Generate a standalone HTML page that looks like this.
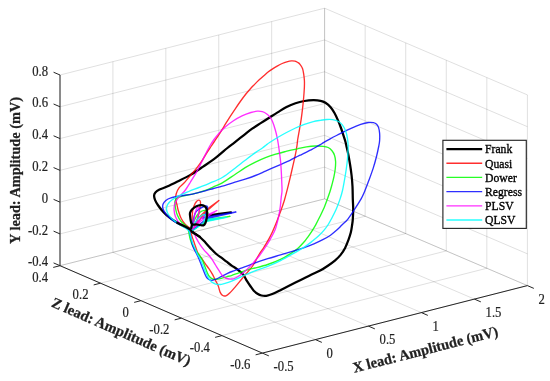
<!DOCTYPE html>
<html lang="en">
<head>
<meta charset="utf-8">
<title>VCG loops</title>
<style>
html,body{margin:0;padding:0;background:#fff;}
body{width:550px;height:381px;overflow:hidden;}
svg{display:block;}
text{font-family:"Liberation Serif","DejaVu Serif",serif;fill:#222;}
.g{stroke:#000;stroke-opacity:0.125;stroke-width:1;fill:none;}
.a{stroke:#262626;stroke-width:1;fill:none;}
.c{fill:none;stroke-width:1.35;stroke-linejoin:round;stroke-linecap:round;}
.frank{stroke:#000;stroke-width:2.25;}
.quasi{stroke:#f00;stroke-opacity:.82;}
.dower{stroke:#0f0;stroke-opacity:.85;}
.regress{stroke:#00f;stroke-opacity:.82;}
.plsv{stroke:#f0f;stroke-opacity:.82;}
.qlsv{stroke:#0ff;stroke-opacity:.85;}
.t{font-size:13.8px;stroke:#222;stroke-width:0.2px;}
.l{font-size:14.8px;font-weight:bold;stroke:#222;stroke-width:0.25px;}
.k{font-size:12.8px;fill:#000;stroke:#000;stroke-width:0.35px;}
</style>
</head>
<body>
<svg width="550" height="381" viewBox="0 0 550 381">
<rect width="550" height="381" fill="#fff"/>
<g id="grid"><line class="g" x1="60" y1="265.7" x2="60" y2="75"/><line class="g" x1="112.92" y1="252.34" x2="112.92" y2="61.64"/><line class="g" x1="165.84" y1="238.98" x2="165.84" y2="48.28"/><line class="g" x1="218.76" y1="225.62" x2="218.76" y2="34.92"/><line class="g" x1="271.68" y1="212.26" x2="271.68" y2="21.56"/><line class="g" x1="324.6" y1="198.9" x2="324.6" y2="8.2"/><line class="g" x1="60" y1="265.7" x2="324.6" y2="198.9"/><line class="g" x1="60" y1="233.92" x2="324.6" y2="167.12"/><line class="g" x1="60" y1="202.13" x2="324.6" y2="135.33"/><line class="g" x1="60" y1="170.35" x2="324.6" y2="103.55"/><line class="g" x1="60" y1="138.57" x2="324.6" y2="71.77"/><line class="g" x1="60" y1="106.78" x2="324.6" y2="39.98"/><line class="g" x1="60" y1="75" x2="324.6" y2="8.2"/><line class="g" x1="324.6" y1="198.9" x2="324.6" y2="8.2"/><line class="g" x1="365.16" y1="216.24" x2="365.16" y2="25.54"/><line class="g" x1="405.72" y1="233.58" x2="405.72" y2="42.88"/><line class="g" x1="446.28" y1="250.92" x2="446.28" y2="60.22"/><line class="g" x1="486.84" y1="268.26" x2="486.84" y2="77.56"/><line class="g" x1="527.4" y1="285.6" x2="527.4" y2="94.9"/><line class="g" x1="324.6" y1="198.9" x2="527.4" y2="285.6"/><line class="g" x1="324.6" y1="167.12" x2="527.4" y2="253.82"/><line class="g" x1="324.6" y1="135.33" x2="527.4" y2="222.03"/><line class="g" x1="324.6" y1="103.55" x2="527.4" y2="190.25"/><line class="g" x1="324.6" y1="71.77" x2="527.4" y2="158.47"/><line class="g" x1="324.6" y1="39.98" x2="527.4" y2="126.68"/><line class="g" x1="324.6" y1="8.2" x2="527.4" y2="94.9"/><line class="g" x1="60" y1="265.7" x2="262.4" y2="353.1"/><line class="g" x1="112.92" y1="252.34" x2="315.4" y2="339.6"/><line class="g" x1="165.84" y1="238.98" x2="368.4" y2="326.1"/><line class="g" x1="218.76" y1="225.62" x2="421.4" y2="312.6"/><line class="g" x1="271.68" y1="212.26" x2="474.4" y2="299.1"/><line class="g" x1="324.6" y1="198.9" x2="527.4" y2="285.6"/><line class="g" x1="60" y1="265.7" x2="324.6" y2="198.9"/><line class="g" x1="100.48" y1="283.18" x2="365.16" y2="216.24"/><line class="g" x1="140.96" y1="300.66" x2="405.72" y2="233.58"/><line class="g" x1="181.44" y1="318.14" x2="446.28" y2="250.92"/><line class="g" x1="221.92" y1="335.62" x2="486.84" y2="268.26"/><line class="g" x1="262.4" y1="353.1" x2="527.4" y2="285.6"/></g>
<g id="curves"><path class="c frank" d="M154.1 195.4C154.2 194.13 154.7 193.17 155.6 192.2C156.5 191.23 157.58 190.55 159.5 189.6C161.42 188.65 164.1 187.85 167.1 186.5C170.1 185.15 173.6 183.43 177.5 181.5C181.4 179.57 186.22 177.38 190.5 174.9C194.78 172.42 198.97 169.47 203.2 166.6C207.43 163.73 211.87 160.8 215.9 157.7C219.93 154.6 224.32 150.52 227.4 148C230.48 145.48 231.75 144.67 234.4 142.6C237.05 140.53 240.33 137.93 243.3 135.6C246.27 133.27 249.23 130.72 252.2 128.6C255.17 126.48 258.13 124.8 261.1 122.9C264.07 121 267.25 118.95 270 117.2C272.75 115.45 274.85 114.1 277.6 112.4C280.35 110.7 283.52 108.53 286.5 107C289.48 105.47 292.52 104.2 295.5 103.2C298.48 102.2 301.43 101.5 304.4 101C307.37 100.5 310.62 100.23 313.3 100.2C315.98 100.17 318.47 100.37 320.5 100.8C322.53 101.23 323.82 101.72 325.5 102.8C327.18 103.88 329.1 105.6 330.6 107.3C332.1 109 333.27 110.82 334.5 113C335.73 115.18 336.92 117.9 338 120.4C339.08 122.9 340.08 125.47 341 128C341.92 130.53 342.75 133.27 343.5 135.6C344.25 137.93 345 140.18 345.5 142C346 143.82 346.05 144.5 346.5 146.5C346.95 148.5 347.6 150.97 348.2 154C348.8 157.03 349.53 161.12 350.1 164.7C350.67 168.28 351.2 171.87 351.6 175.5C352 179.13 352.3 182.6 352.5 186.5C352.7 190.4 352.68 195.13 352.8 198.9C352.92 202.67 353.2 205.7 353.2 209.1C353.2 212.5 352.98 216.65 352.8 219.3C352.62 221.95 352.43 222.78 352.1 225C351.77 227.22 351.43 230.05 350.8 232.6C350.17 235.15 349.25 237.75 348.3 240.3C347.35 242.85 346.38 245.47 345.1 247.9C343.82 250.33 342.3 252.78 340.6 254.9C338.9 257.02 337.02 258.8 334.9 260.6C332.78 262.4 330.35 264.05 327.9 265.7C325.45 267.35 323 269 320.2 270.5C317.4 272 314.1 273.25 311.1 274.7C308.1 276.15 305.38 277.6 302.2 279.2C299.02 280.8 295.4 282.6 292 284.3C288.6 286 284.98 287.82 281.8 289.4C278.62 290.98 275.48 292.73 272.9 293.8C270.32 294.87 268.2 295.52 266.3 295.8C264.4 296.08 262.97 295.83 261.5 295.5C260.03 295.17 258.78 294.58 257.5 293.8C256.22 293.02 255 292.1 253.8 290.8C252.6 289.5 251.45 287.65 250.3 286C249.15 284.35 248.1 282.82 246.9 280.9C245.7 278.98 244.8 276.52 243.1 274.5C241.4 272.48 238.55 270.25 236.7 268.8C234.85 267.35 233.68 266.98 232 265.8C230.32 264.62 228.37 263.05 226.6 261.7C224.83 260.35 223.12 258.98 221.4 257.7C219.68 256.42 217.95 255.4 216.3 254C214.65 252.6 213.28 251.18 211.5 249.3C209.72 247.42 207.57 244.78 205.6 242.7C203.63 240.62 201.9 238.58 199.7 236.8C197.5 235.02 194.02 233.25 192.4 232C190.78 230.75 191.25 230.22 190 229.3C188.75 228.38 187.02 227.6 184.9 226.5C182.78 225.4 179.85 224.18 177.3 222.7C174.75 221.22 171.93 219.4 169.6 217.6C167.27 215.8 165.2 213.92 163.3 211.9C161.4 209.88 159.58 207.52 158.2 205.5C156.82 203.48 155.68 201.48 155 199.8C154.32 198.12 154 196.67 154.1 195.4Z"/><path class="c frank" d="M207.4 215.6C211.33 215.05 227.07 212.85 231 212.3"/><path class="c quasi" d="M190 228.5C189 227.1 186.38 225.7 184.9 224C183.42 222.3 182.17 220.42 181.1 218.3C180.03 216.18 179.18 213.53 178.5 211.3C177.82 209.07 177.47 207.03 177 204.9C176.53 202.77 175.82 200.4 175.7 198.5C175.58 196.6 175.72 195.3 176.3 193.5C176.88 191.7 177.92 189.45 179.2 187.7C180.48 185.95 182.12 185.03 184 183C185.88 180.97 188.37 178.02 190.5 175.5C192.63 172.98 194.9 170.33 196.8 167.9C198.7 165.47 200.2 163.45 201.9 160.9C203.6 158.35 205.48 155 207 152.6C208.52 150.2 209.83 148.27 211 146.5C212.17 144.73 212.65 144.02 214 142C215.35 139.98 217.4 137.05 219.1 134.4C220.8 131.75 222.5 128.87 224.2 126.1C225.9 123.33 227.4 120.77 229.3 117.8C231.2 114.83 233.77 111.02 235.6 108.3C237.43 105.58 238.65 103.8 240.3 101.5C241.95 99.2 243.88 96.55 245.5 94.5C247.12 92.45 248.48 90.88 250 89.2C251.52 87.52 253.07 85.97 254.6 84.4C256.13 82.83 257.67 81.25 259.2 79.8C260.73 78.35 262.27 77.03 263.8 75.7C265.33 74.37 266.87 72.98 268.4 71.8C269.93 70.62 271.47 69.6 273 68.6C274.53 67.6 276.07 66.65 277.6 65.8C279.13 64.95 280.67 64.15 282.2 63.5C283.73 62.85 285.27 62.33 286.8 61.9C288.33 61.47 290.03 61.02 291.4 60.9C292.77 60.78 293.93 60.93 295 61.2C296.07 61.47 296.97 61.98 297.8 62.5C298.63 63.02 299.22 63.32 300 64.3C300.78 65.28 301.88 66.77 302.5 68.4C303.12 70.03 303.38 72.08 303.7 74.1C304.02 76.12 304.28 78.38 304.4 80.5C304.52 82.62 304.47 84.68 304.4 86.8C304.33 88.92 304.18 90.75 304 93.2C303.82 95.65 303.55 98.88 303.3 101.5C303.05 104.12 302.85 105.97 302.5 108.9C302.15 111.83 301.7 115.7 301.2 119.1C300.7 122.5 300.08 125.9 299.5 129.3C298.92 132.7 298.12 136.8 297.7 139.5C297.28 142.2 297.4 142.88 297 145.5C296.6 148.12 296.02 151.68 295.3 155.2C294.58 158.72 293.58 162.73 292.7 166.6C291.82 170.47 290.9 174.62 290 178.4C289.1 182.18 288.23 185.67 287.3 189.3C286.37 192.93 285.53 196.48 284.4 200.2C283.27 203.92 281.78 208 280.5 211.6C279.22 215.2 278 218.52 276.7 221.8C275.4 225.08 274.02 228.4 272.7 231.3C271.38 234.2 270.27 236.53 268.8 239.2C267.33 241.87 265.62 244.58 263.9 247.3C262.18 250.02 260.27 252.55 258.5 255.5C256.73 258.45 255.02 262.35 253.3 265C251.58 267.65 250.12 269.07 248.2 271.4C246.28 273.73 243.92 276.47 241.8 279C239.68 281.53 237.52 284.27 235.5 286.6C233.48 288.93 231.3 291.47 229.7 293C228.1 294.53 227.07 295.38 225.9 295.8C224.73 296.22 223.65 296.07 222.7 295.5C221.75 294.93 220.93 293.98 220.2 292.4C219.47 290.82 218.95 287.73 218.3 286C217.65 284.27 216.88 283.17 216.3 282C215.72 280.83 215.48 280.35 214.8 279C214.12 277.65 213.18 275.62 212.2 273.9C211.22 272.18 210.07 270.42 208.9 268.7C207.73 266.98 206.42 265.32 205.2 263.6C203.98 261.88 202.75 260 201.6 258.4C200.45 256.8 199.23 255.75 198.3 254C197.37 252.25 196.68 249.78 196 247.9C195.32 246.02 194.8 244.42 194.2 242.7C193.6 240.98 192.95 239.32 192.4 237.6C191.85 235.88 191.3 233.92 190.9 232.4C190.5 230.88 191 229.9 190 228.5Z"/><path class="c quasi" d="M191 230.4C191.17 229 191.75 225.07 192 222C192.25 218.93 192.17 214.67 192.5 212C192.83 209.33 193.33 207.75 194 206C194.67 204.25 195.67 202.47 196.5 201.5C197.33 200.53 198.33 200.12 199 200.2C199.67 200.28 200.33 200.87 200.5 202C200.67 203.13 200.25 205.17 200 207C199.75 208.83 199.42 211 199 213C198.58 215 198.17 217 197.5 219C196.83 221 195.42 224 195 225"/><path class="c quasi" d="M195 225L198 218.4L204 212.5L210 207L218.9 200.5L205 212.5L196.5 224L192.5 230"/><path class="c dower" d="M187.5 227.2C186.23 225.5 182.8 223.52 181.1 221.5C179.4 219.48 178.25 217.43 177.3 215.1C176.35 212.77 175.78 209.83 175.4 207.5C175.02 205.17 174.68 202.7 175 201.1C175.32 199.5 176.07 198.75 177.3 197.9C178.53 197.05 179.87 196.63 182.4 196C184.93 195.37 188.68 195.05 192.5 194.1C196.32 193.15 201.82 191.5 205.3 190.3C208.78 189.1 210.57 188.15 213.4 186.9C216.23 185.65 218.7 184.87 222.3 182.8C225.9 180.73 231.18 177.02 235 174.5C238.82 171.98 241.8 169.75 245.2 167.7C248.6 165.65 252.02 163.87 255.4 162.2C258.78 160.53 262.12 159.03 265.5 157.7C268.88 156.37 272.3 155.25 275.7 154.2C279.1 153.15 283.35 152.07 285.9 151.4C288.45 150.73 289.05 150.63 291 150.2C292.95 149.77 295.02 149.35 297.6 148.8C300.18 148.25 303.52 147.37 306.5 146.9C309.48 146.43 312.73 146.1 315.5 146C318.27 145.9 320.98 146.05 323.1 146.3C325.22 146.55 326.72 146.77 328.2 147.5C329.68 148.23 330.95 149.42 332 150.7C333.05 151.98 333.9 153.4 334.5 155.2C335.1 157 335.48 159.17 335.6 161.5C335.72 163.83 335.48 166.65 335.2 169.2C334.92 171.75 334.43 174.25 333.9 176.8C333.37 179.35 332.65 182.05 332 184.5C331.35 186.95 330.77 189.1 330 191.5C329.23 193.9 328.48 195.97 327.4 198.9C326.32 201.83 324.85 205.95 323.5 209.1C322.15 212.25 320.6 215.18 319.3 217.8C318 220.42 316.9 222.63 315.7 224.8C314.5 226.97 313.38 228.8 312.1 230.8C310.82 232.8 309.23 235.07 308 236.8C306.77 238.53 306.32 239.35 304.7 241.2C303.08 243.05 300.65 245.83 298.3 247.9C295.95 249.97 293.57 251.68 290.6 253.6C287.63 255.52 284.32 257.58 280.5 259.4C276.68 261.22 271.95 263.07 267.7 264.5C263.45 265.93 257.83 267.27 255 268C252.17 268.73 253.75 267.97 250.7 268.9C247.65 269.83 239.82 272.53 236.7 273.6C233.58 274.67 233.68 274.77 232 275.3C230.32 275.83 228.37 276.3 226.6 276.8C224.83 277.3 223.12 277.87 221.4 278.3C219.68 278.73 217.77 279.28 216.3 279.4C214.83 279.52 213.72 279.43 212.6 279C211.48 278.57 210.47 277.78 209.6 276.8C208.73 275.82 208.18 274.82 207.4 273.1C206.62 271.38 205.75 268.7 204.9 266.5C204.05 264.3 203.25 261.82 202.3 259.9C201.35 257.98 200 256.15 199.2 255C198.4 253.85 198.27 254.07 197.5 253C196.73 251.93 195.58 250.2 194.6 248.6C193.62 247 192.4 245.23 191.6 243.4C190.8 241.57 190.28 239.55 189.8 237.6C189.32 235.65 189.08 233.43 188.7 231.7C188.32 229.97 188.77 228.9 187.5 227.2Z"/><path class="c dower" d="M190 230.5C190.42 229.58 191.67 226.92 192.5 225C193.33 223.08 194.08 220.83 195 219C195.92 217.17 196.83 215.33 198 214C199.17 212.67 200.67 211.58 202 211C203.33 210.42 205 210.17 206 210.5C207 210.83 207.77 211.75 208 213C208.23 214.25 207.83 216.43 207.4 218C206.97 219.57 206.13 221.48 205.4 222.4C204.67 223.32 203.4 223.32 203 223.5"/><path class="c dower" d="M203 223.5L207.4 219.4L230 216.4L207 220.8L199 226L192 231"/><path class="c regress" d="M186.2 227.8C184.37 226.55 181.05 225.48 178.5 224C175.95 222.52 173.02 220.6 170.9 218.9C168.78 217.2 167.12 215.5 165.8 213.8C164.48 212.1 163.47 210.28 163 208.7C162.53 207.12 162.53 205.67 163 204.3C163.47 202.93 164.48 201.57 165.8 200.5C167.12 199.43 168.57 198.65 170.9 197.9C173.23 197.15 176.2 196.63 179.8 196C183.4 195.37 188.25 194.97 192.5 194.1C196.75 193.23 201.8 191.73 205.3 190.8C208.8 189.87 210.67 189.27 213.5 188.5C216.33 187.73 218.72 187.25 222.3 186.2C225.88 185.15 231.18 183.38 235 182.2C238.82 181.02 241.8 180.22 245.2 179.1C248.6 177.98 252.02 176.83 255.4 175.5C258.78 174.17 262.12 172.58 265.5 171.1C268.88 169.62 272.3 168.08 275.7 166.6C279.1 165.12 283.52 163.25 285.9 162.2C288.28 161.15 288.3 161.15 290 160.3C291.7 159.45 294.4 157.95 296.1 157.1C297.8 156.25 298.72 155.9 300.2 155.2C301.68 154.5 303.3 153.75 305 152.9C306.7 152.05 308.82 150.92 310.4 150.1C311.98 149.28 312.85 148.9 314.5 148C316.15 147.1 318.8 145.6 320.3 144.7C321.8 143.8 321.85 143.58 323.5 142.6C325.15 141.62 328.72 139.65 330.2 138.8C331.68 137.95 330.73 138.35 332.4 137.5C334.07 136.65 337.18 135.18 340.2 133.7C343.22 132.22 347.08 130.15 350.5 128.6C353.92 127.05 357.72 125.42 360.7 124.4C363.68 123.38 366.27 122.78 368.4 122.5C370.53 122.22 372.13 122.42 373.5 122.7C374.87 122.98 375.77 123.42 376.6 124.2C377.43 124.98 378 125.92 378.5 127.4C379 128.88 379.42 130.88 379.6 133.1C379.78 135.32 379.75 138.47 379.6 140.7C379.45 142.93 379.22 143.87 378.7 146.5C378.18 149.13 377.4 152.93 376.5 156.5C375.6 160.07 374.58 163.88 373.3 167.9C372.02 171.92 370.25 176.67 368.8 180.6C367.35 184.53 365.88 188.45 364.6 191.5C363.32 194.55 362.75 195.97 361.1 198.9C359.45 201.83 356.93 205.7 354.7 209.1C352.47 212.5 349.83 216.65 347.7 219.3C345.57 221.95 343.72 223.2 341.9 225C340.08 226.8 338.7 228.4 336.8 230.1C334.9 231.8 332.83 233.6 330.5 235.2C328.17 236.8 325.57 238.25 322.8 239.7C320.03 241.15 316.78 242.65 313.9 243.9C311.02 245.15 308.95 246 305.5 247.2C302.05 248.4 297.37 249.82 293.2 251.1C289.03 252.38 284.75 253.63 280.5 254.9C276.25 256.17 272.12 257.3 267.7 258.7C263.28 260.1 258.55 261.68 254 263.3C249.45 264.92 244.07 267.03 240.4 268.4C236.73 269.77 234.3 270.58 232 271.5C229.7 272.42 228.37 273.08 226.6 273.9C224.83 274.72 223.12 275.55 221.4 276.4C219.68 277.25 217.83 278.35 216.3 279C214.77 279.65 213.37 280.18 212.2 280.3C211.03 280.42 210.22 280.17 209.3 279.7C208.38 279.23 207.5 278.6 206.7 277.5C205.9 276.4 205.3 274.93 204.5 273.1C203.7 271.27 202.75 268.7 201.9 266.5C201.05 264.3 200.23 261.9 199.4 259.9C198.57 257.9 198.02 256.82 196.9 254.5C195.78 252.18 193.75 249.05 192.7 246C191.65 242.95 191.13 238.62 190.6 236.2C190.07 233.78 190.23 232.9 189.5 231.5C188.77 230.1 188.03 229.05 186.2 227.8Z"/><path class="c regress" d="M190.5 230.5C190.83 229.42 191.75 226.83 192.5 224C193.25 221.17 193.92 216 195 213.5C196.08 211 197.5 210.17 199 209C200.5 207.83 202.63 206.97 204 206.5C205.37 206.03 206.62 205.78 207.2 206.2C207.78 206.62 207.78 207.7 207.5 209C207.22 210.3 206.25 212.5 205.5 214C204.75 215.5 203.42 217.33 203 218"/><path class="c regress" d="M203 218L206.8 217.2L235.9 212L207 218.5L200 224L193 230"/><path class="c plsv" d="M186.2 227.8C183.82 226.18 181 224.6 179.2 222.7C177.4 220.8 176.25 218.52 175.4 216.4C174.55 214.28 174.22 212.02 174.1 210C173.98 207.98 174.17 206.1 174.7 204.3C175.23 202.5 176.13 200.9 177.3 199.2C178.47 197.5 180.42 195.55 181.7 194.1C182.98 192.65 183.53 192.52 185 190.5C186.47 188.48 188.53 185.13 190.5 182C192.47 178.87 195.12 174.68 196.8 171.7C198.48 168.72 199.12 167.07 200.6 164.1C202.08 161.13 204.17 156.92 205.7 153.9C207.23 150.88 208.42 148.4 209.8 146C211.18 143.6 212.45 141.65 214 139.5C215.55 137.35 217.18 135.23 219.1 133.1C221.02 130.97 223.17 128.72 225.5 126.7C227.83 124.68 230.35 122.8 233.1 121C235.85 119.2 239.03 117.32 242 115.9C244.97 114.48 248.35 113.28 250.9 112.5C253.45 111.72 255.38 111.33 257.3 111.2C259.22 111.07 260.82 111.23 262.4 111.7C263.98 112.17 265.53 113.08 266.8 114C268.07 114.92 269.05 115.93 270 117.2C270.95 118.47 271.65 119.58 272.5 121.6C273.35 123.62 274.35 126.75 275.1 129.3C275.85 131.85 276.47 134.45 277 136.9C277.53 139.35 277.88 141.38 278.3 144C278.72 146.62 279.12 149.68 279.5 152.6C279.88 155.52 280.3 158.32 280.6 161.5C280.9 164.68 281.1 168.08 281.3 171.7C281.5 175.32 281.68 179.98 281.8 183.2C281.92 186.42 282.1 188.6 282 191C281.9 193.4 281.48 195.02 281.2 197.6C280.92 200.18 280.73 203.32 280.3 206.5C279.87 209.68 279.3 213.3 278.6 216.7C277.9 220.1 276.85 224.35 276.1 226.9C275.35 229.45 275.18 229.77 274.1 232C273.02 234.23 271.2 237.55 269.6 240.3C268 243.05 266.18 245.97 264.5 248.5C262.82 251.03 260.92 253.67 259.5 255.5C258.08 257.33 257.25 258.02 256 259.5C254.75 260.98 253.73 262.53 252 264.4C250.27 266.27 247.72 268.8 245.6 270.7C243.48 272.6 241.2 274.48 239.3 275.8C237.4 277.12 235.42 278.07 234.2 278.6C232.98 279.13 232.9 278.93 232 279C231.1 279.07 229.95 279.18 228.8 279C227.65 278.82 226.22 278.52 225.1 277.9C223.98 277.28 223.08 276.47 222.1 275.3C221.12 274.13 220.3 272.62 219.2 270.9C218.1 269.18 216.72 266.97 215.5 265C214.28 263.03 213.18 260.93 211.9 259.1C210.62 257.27 209.1 255.5 207.8 254C206.5 252.5 205.45 251.73 204.1 250.1C202.75 248.47 201.05 246.28 199.7 244.2C198.35 242.12 197.03 239.57 196 237.6C194.97 235.63 195.13 234.03 193.5 232.4C191.87 230.77 188.58 229.42 186.2 227.8Z"/><path class="c plsv" d="M193.5 226C193.67 224.33 194 218.83 194.5 216C195 213.17 195.83 210.42 196.5 209C197.17 207.58 198.08 207 198.5 207.5C198.92 208 199.33 209.58 199 212C198.67 214.42 196.92 220.33 196.5 222"/><path class="c plsv" d="M191.5 230L194 225L202 218L209 214L216.9 210.5L200 221.5L193 229"/><path class="c qlsv" d="M186 228.5C184.4 227.32 182 226.1 179.8 224.6C177.6 223.1 174.7 221.18 172.8 219.5C170.9 217.82 169.45 216.18 168.4 214.5C167.35 212.82 166.62 211.1 166.5 209.4C166.38 207.7 166.75 205.9 167.7 204.3C168.65 202.7 170.18 201.28 172.2 199.8C174.22 198.32 177.05 196.78 179.8 195.4C182.55 194.02 185.52 192.82 188.7 191.5C191.88 190.18 195.47 188.87 198.9 187.5C202.33 186.13 205.4 184.97 209.3 183.3C213.2 181.63 218.02 180.02 222.3 177.5C226.58 174.98 231.18 171.07 235 168.2C238.82 165.33 241.8 162.9 245.2 160.3C248.6 157.7 252.53 154.65 255.4 152.6C258.27 150.55 260.6 149.27 262.4 148C264.2 146.73 264.93 145.95 266.2 145C267.47 144.05 268.1 143.55 270 142.3C271.9 141.05 274.85 139.13 277.6 137.5C280.35 135.87 283.52 134.08 286.5 132.5C289.48 130.92 292.52 129.35 295.5 128C298.48 126.65 301.43 125.47 304.4 124.4C307.37 123.33 310.62 122.28 313.3 121.6C315.98 120.92 318.25 120.65 320.5 120.3C322.75 119.95 324.8 119.62 326.8 119.5C328.8 119.38 330.55 119.27 332.5 119.6C334.45 119.93 336.87 120.63 338.5 121.5C340.13 122.37 341.13 123.3 342.3 124.8C343.47 126.3 344.65 128.27 345.5 130.5C346.35 132.73 346.95 135.53 347.4 138.2C347.85 140.87 348.12 144.1 348.2 146.5C348.28 148.9 348.03 150.35 347.9 152.6C347.77 154.85 347.68 157.18 347.4 160C347.12 162.82 346.68 166.17 346.2 169.5C345.72 172.83 345.12 176.5 344.5 180C343.88 183.5 343.23 187.35 342.5 190.5C341.77 193.65 341.13 195.8 340.1 198.9C339.07 202 337.78 205.7 336.3 209.1C334.82 212.5 332.6 216.65 331.2 219.3C329.8 221.95 329.08 223.2 327.9 225C326.72 226.8 325.58 228.35 324.1 230.1C322.62 231.85 320.93 233.68 319 235.5C317.07 237.32 314.83 239.15 312.5 241C310.17 242.85 308.22 244.5 305 246.6C301.78 248.7 297.28 251.27 293.2 253.6C289.12 255.93 284.75 258.47 280.5 260.6C276.25 262.73 271.95 264.7 267.7 266.4C263.45 268.1 259.53 269.02 255 270.8C250.47 272.58 244.82 275.2 240.5 277.1C236.18 279 232.27 281 229.1 282.2C225.93 283.4 223.73 283.98 221.5 284.3C219.27 284.62 217.43 284.55 215.7 284.1C213.97 283.65 212.3 282.62 211.1 281.6C209.9 280.58 209.3 279.3 208.5 278C207.7 276.7 207.13 275.63 206.3 273.8C205.47 271.97 204.52 269.45 203.5 267C202.48 264.55 201.2 261.18 200.2 259.1C199.2 257.02 198.32 256.13 197.5 254.5C196.68 252.87 196.1 251.15 195.3 249.3C194.5 247.45 193.43 245.35 192.7 243.4C191.97 241.45 191.45 239.55 190.9 237.6C190.35 235.65 190.22 233.22 189.4 231.7C188.58 230.18 187.6 229.68 186 228.5Z"/><path class="c qlsv" d="M190.3 230.5C190.83 229.58 192.38 226.75 193.5 225C194.62 223.25 195.75 221.5 197 220C198.25 218.5 199.83 216.92 201 216C202.17 215.08 203.25 214.33 204 214.5C204.75 214.67 205.5 215.92 205.5 217C205.5 218.08 204.25 220.33 204 221"/><path class="c qlsv" d="M204 221L207 219.5L226.6 217.3L206 221.5L198 227L192.5 230.5"/><path class="c frank" d="M190 213C190.3 211.75 191 210.58 192 209.5C193 208.42 194.5 207.22 196 206.5C197.5 205.78 199.6 205.28 201 205.2C202.4 205.12 203.5 205.45 204.4 206C205.3 206.55 205.95 207.33 206.4 208.5C206.85 209.67 207.05 211.42 207.1 213C207.15 214.58 206.98 216.33 206.7 218C206.42 219.67 205.95 221.77 205.4 223C204.85 224.23 204.3 225.07 203.4 225.4C202.5 225.73 201.23 225.17 200 225C198.77 224.83 197.33 224.5 196 224.4C194.67 224.3 192.87 224.97 192 224.4C191.13 223.83 191.1 222.23 190.8 221C190.5 219.77 190.33 218.33 190.2 217C190.07 215.67 189.7 214.25 190 213Z"/><path class="c frank" d="M192 224.4C191.88 225 191.42 227.4 191.3 228"/><path class="c frank" d="M177.3 222.7C178.57 223.33 182.78 225.4 184.9 226.5C187.02 227.6 188.75 228.38 190 229.3C191.25 230.22 190.78 230.75 192.4 232C194.02 233.25 198.48 236 199.7 236.8"/></g>
<g id="axes"><line class="a" x1="60" y1="265.7" x2="262.4" y2="353.1"/><line class="a" x1="262.4" y1="353.1" x2="527.4" y2="285.6"/><line class="a" x1="60" y1="265.7" x2="60" y2="75"/><line class="a" x1="60" y1="265.7" x2="53.22" y2="267.43"/><line class="a" x1="100.48" y1="283.18" x2="93.7" y2="284.91"/><line class="a" x1="140.96" y1="300.66" x2="134.18" y2="302.39"/><line class="a" x1="181.44" y1="318.14" x2="174.66" y2="319.87"/><line class="a" x1="221.92" y1="335.62" x2="215.14" y2="337.35"/><line class="a" x1="262.4" y1="353.1" x2="255.62" y2="354.83"/><line class="a" x1="262.4" y1="353.1" x2="268.83" y2="355.88"/><line class="a" x1="315.4" y1="339.6" x2="321.83" y2="342.38"/><line class="a" x1="368.4" y1="326.1" x2="374.83" y2="328.88"/><line class="a" x1="421.4" y1="312.6" x2="427.83" y2="315.38"/><line class="a" x1="474.4" y1="299.1" x2="480.83" y2="301.88"/><line class="a" x1="527.4" y1="285.6" x2="533.83" y2="288.38"/><line class="a" x1="60" y1="265.7" x2="53.57" y2="262.92"/><line class="a" x1="60" y1="233.92" x2="53.57" y2="231.14"/><line class="a" x1="60" y1="202.13" x2="53.57" y2="199.36"/><line class="a" x1="60" y1="170.35" x2="53.57" y2="167.57"/><line class="a" x1="60" y1="138.57" x2="53.57" y2="135.79"/><line class="a" x1="60" y1="106.78" x2="53.57" y2="104.01"/><line class="a" x1="60" y1="75" x2="53.57" y2="72.22"/></g>
<g id="ticklabels"><text class="t" text-anchor="end" transform="translate(48 266.3) scale(0.92 1)">-0.4</text><text class="t" text-anchor="end" transform="translate(48 234.52) scale(0.92 1)">-0.2</text><text class="t" text-anchor="end" transform="translate(48 202.73) scale(0.92 1)">0</text><text class="t" text-anchor="end" transform="translate(48 170.95) scale(0.92 1)">0.2</text><text class="t" text-anchor="end" transform="translate(48 139.17) scale(0.92 1)">0.4</text><text class="t" text-anchor="end" transform="translate(48 107.38) scale(0.92 1)">0.6</text><text class="t" text-anchor="end" transform="translate(48 75.6) scale(0.92 1)">0.8</text><text class="t" text-anchor="end" transform="translate(48 281.9) scale(0.92 1)">0.4</text><text class="t" text-anchor="end" transform="translate(88.48 299.38) scale(0.92 1)">0.2</text><text class="t" text-anchor="end" transform="translate(128.96 316.86) scale(0.92 1)">0</text><text class="t" text-anchor="end" transform="translate(169.44 334.34) scale(0.92 1)">-0.2</text><text class="t" text-anchor="end" transform="translate(209.92 351.82) scale(0.92 1)">-0.4</text><text class="t" text-anchor="end" transform="translate(250.4 369.3) scale(0.92 1)">-0.6</text><text class="t" text-anchor="start" transform="translate(273.6 371.1) scale(0.92 1)">-0.5</text><text class="t" text-anchor="start" transform="translate(326.6 357.6) scale(0.92 1)">0</text><text class="t" text-anchor="start" transform="translate(379.6 344.1) scale(0.92 1)">0.5</text><text class="t" text-anchor="start" transform="translate(432.6 330.6) scale(0.92 1)">1</text><text class="t" text-anchor="start" transform="translate(485.6 317.1) scale(0.92 1)">1.5</text><text class="t" text-anchor="start" transform="translate(538.6 303.6) scale(0.92 1)">2</text></g>
<g id="axlabels"><text class="l" text-anchor="middle" transform="translate(20.4 170.5) rotate(-90) scale(0.968 1)">Y lead: Amplitude (mV)</text><text class="l" text-anchor="middle" transform="translate(119.4 336.1) rotate(23.4) scale(0.99 1)">Z lead: Amplitude (mV)</text><text class="l" text-anchor="middle" transform="translate(426.5 354.3) rotate(-14.4) scale(0.98 1)">X lead: Amplitude (mV)</text></g>
<g id="legend"><rect x="442.9" y="140.3" width="83.4" height="88.1" fill="#fff" stroke="#262626" stroke-width="1.15"/><line class="c frank" style="stroke-linecap:butt" x1="446.4" y1="149" x2="482.2" y2="149"/><text class="k" transform="translate(485 153.4) scale(0.913 1)">Frank</text><line class="c quasi" style="stroke-linecap:butt" x1="446.4" y1="163.2" x2="482.2" y2="163.2"/><text class="k" transform="translate(485 167.6) scale(0.913 1)">Quasi</text><line class="c dower" style="stroke-linecap:butt" x1="446.4" y1="177.4" x2="482.2" y2="177.4"/><text class="k" transform="translate(485 181.8) scale(0.913 1)">Dower</text><line class="c regress" style="stroke-linecap:butt" x1="446.4" y1="191.6" x2="482.2" y2="191.6"/><text class="k" transform="translate(485 196) scale(0.913 1)">Regress</text><line class="c plsv" style="stroke-linecap:butt" x1="446.4" y1="205.8" x2="482.2" y2="205.8"/><text class="k" transform="translate(485 210.2) scale(0.913 1)">PLSV</text><line class="c qlsv" style="stroke-linecap:butt" x1="446.4" y1="220" x2="482.2" y2="220"/><text class="k" transform="translate(485 224.4) scale(0.913 1)">QLSV</text></g>
</svg>
</body>
</html>
